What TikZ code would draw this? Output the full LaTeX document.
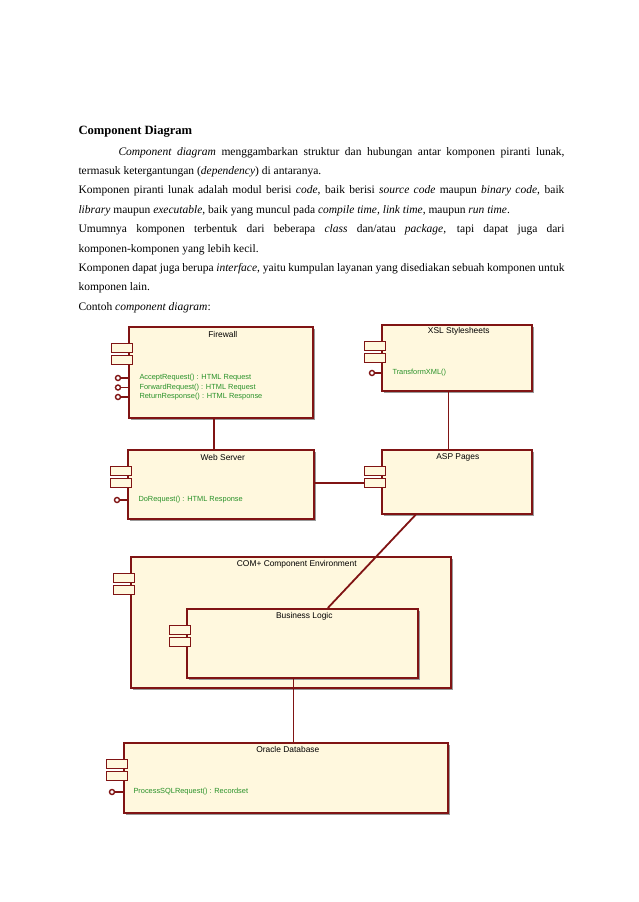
\documentclass[tikz,border=0pt]{standalone}
\usepackage{fontspec}
\setmainfont{Liberation Serif}
\newfontfamily\umlfont{Liberation Sans}
\usetikzlibrary{shadows}

\definecolor{umlred}{RGB}{128,20,20}
\definecolor{umlfill}{RGB}{255,248,222}
\definecolor{umlgreen}{RGB}{40,145,40}

% one justified line of the given width
\newcommand{\jline}[2]{\makebox[#1pt][s]{#2}}

\begin{document}
\begin{tikzpicture}[x=1pt, y=-1pt, line width=1pt,
  txt/.style={anchor=base west, inner sep=0pt, font=\fontsize{11.5}{19.4}\selectfont},
  comp/.style={draw=umlred, line width=1.6pt, fill=umlfill, anchor=north west, inner sep=0pt,
    drop shadow={shadow xshift=2.5pt, shadow yshift=-2.5pt, fill=black!40, opacity=1}},
  port/.style={draw=umlred, line width=1.4pt, fill=umlfill, anchor=north west, inner sep=0pt,
    minimum width=21pt, minimum height=9pt},
  lolli/.style={circle, draw=umlred, line width=1.4pt, fill=white, inner sep=0pt, minimum size=5pt},
  title/.style={font=\umlfont\fontsize{8.4}{9}\selectfont, inner sep=0pt},
  ops/.style={font=\umlfont\fontsize{7.4}{9}\selectfont, text=umlgreen, anchor=west, inner sep=0pt},
  wire/.style={draw=umlred}]

  % Page
  \fill[white] (0,0) rectangle (638,902);
  \useasboundingbox (0,0) rectangle (638,902);

  % Heading and paragraphs
  \node[txt, font=\fontsize{12.6}{19.4}\selectfont\bfseries] (head) at (78,134.5) {Component Diagram};
  \node[txt] (l1) at (118,155) {\jline{446}{\textit{Component diagram} menggambarkan struktur dan hubungan antar komponen piranti lunak,}};
  \node[txt] (l2) at (78,174.4) {termasuk ketergantungan (\textit{dependency}) di antaranya.};
  \node[txt] (l3) at (78,193.8) {\jline{486}{Komponen piranti lunak adalah modul berisi \textit{code}, baik berisi \textit{source code} maupun \textit{binary code}, baik}};
  \node[txt] (l4) at (78,213.2) {\textit{library} maupun \textit{executable}, baik yang muncul pada \textit{compile time, link time}, maupun \textit{run time}.};
  \node[txt] (l5) at (78,232.6) {\jline{486}{Umumnya komponen terbentuk dari beberapa \textit{class} dan/atau \textit{package}, tapi dapat juga dari}};
  \node[txt] (l6) at (78,252) {komponen-komponen yang lebih kecil.};
  \node[txt] (l7) at (78,271.4) {\jline{486}{Komponen dapat juga berupa \textit{interface}, yaitu kumpulan layanan yang disediakan sebuah komponen untuk}};
  \node[txt] (l8) at (78,290.8) {komponen lain.};
  \node[txt] (l9) at (78,310.2) {Contoh \textit{component diagram}:};

  % Components
  \node[comp, minimum width=184pt, minimum height=91pt] (fw) at (128,326) {};
  \node[comp, minimum width=150pt, minimum height=66pt] (xsl) at (381,324) {};
  \node[comp, minimum width=186pt, minimum height=69pt] (web) at (127,449) {};
  \node[comp, minimum width=150pt, minimum height=64pt] (asp) at (381,449) {};
  \node[comp, minimum width=320pt, minimum height=131pt] (com) at (130,556) {};
  \node[comp, minimum width=231pt, minimum height=69pt] (bl) at (186,608) {};
  \node[comp, minimum width=324pt, minimum height=70pt] (ora) at (123,742) {};

  % Port rectangles on the left side
  \foreach \comp in {fw,xsl,web,asp,com,bl,ora} {
    \node[port] (\comp p1) at ([xshift=-17pt, yshift=-17pt]\comp.north west) {};
    \node[port] (\comp p2) at ([xshift=-17pt, yshift=-29pt]\comp.north west) {};
  }

  % Titles
  \node[title] at ([xshift=2pt, yshift=-8pt]fw.north) {Firewall};
  \node[title] at ([xshift=2pt, yshift=-7pt]xsl.north) {XSL Stylesheets};
  \node[title] at ([xshift=2pt, yshift=-8pt]web.north) {Web Server};
  \node[title] at ([xshift=1pt, yshift=-8pt]asp.north) {ASP Pages};
  \node[title] at ([xshift=6pt, yshift=-8pt]com.north) {COM+ Component Environment};
  \node[title] at ([xshift=2pt, yshift=-8pt]bl.north) {Business Logic};
  \node[title] at ([xshift=2pt, yshift=-7pt]ora.north) {Oracle Database};

  % Interfaces
  \foreach \op [count=\i] in {AcceptRequest() : HTML Request, ForwardRequest() : HTML Request, ReturnResponse() : HTML Response} {
    \node[lolli] (fwi\i) at (118,{368.5+9.5*\i}) {};
    \draw[wire, line width=1.4pt] (fwi\i) -- (fwi\i -| fw.west);
    \node[ops] at (139,{368.5+9.5*\i}) {\op};
  }
  \node[lolli] (xsli) at (372,373) {};
  \draw[wire, line width=1.4pt] (xsli) -- (xsli -| xsl.west);
  \node[ops] at (392,373) {TransformXML()};
  \node[lolli] (webi) at (117,500) {};
  \draw[wire, line width=1.4pt] (webi) -- (webi -| web.west);
  \node[ops] at (138,500) {DoRequest() : HTML Response};
  \node[lolli] (orai) at (112,792) {};
  \draw[wire, line width=1.4pt] (orai) -- (orai -| ora.west);
  \node[ops] at (133,792) {ProcessSQLRequest() : Recordset};

  % Connectors
  \draw[wire, line width=2.6pt] ([xshift=-7pt]fw.south) -- ([xshift=-7pt]web.north);
  \draw[wire, line width=0.9pt] ([xshift=-8pt]xsl.south) -- ([xshift=-8pt]asp.north);
  \draw[wire, line width=2.4pt] (web.east |- aspp2.west) -- (aspp2.west);
  \draw[wire, line width=1.8pt] ([xshift=-41pt]asp.south) -- ([xshift=25.5pt]bl.north);
  \draw[wire, line width=0.9pt] ([xshift=-8.5pt]bl.south) -- ([xshift=8pt]ora.north);

\end{tikzpicture}
\end{document}
